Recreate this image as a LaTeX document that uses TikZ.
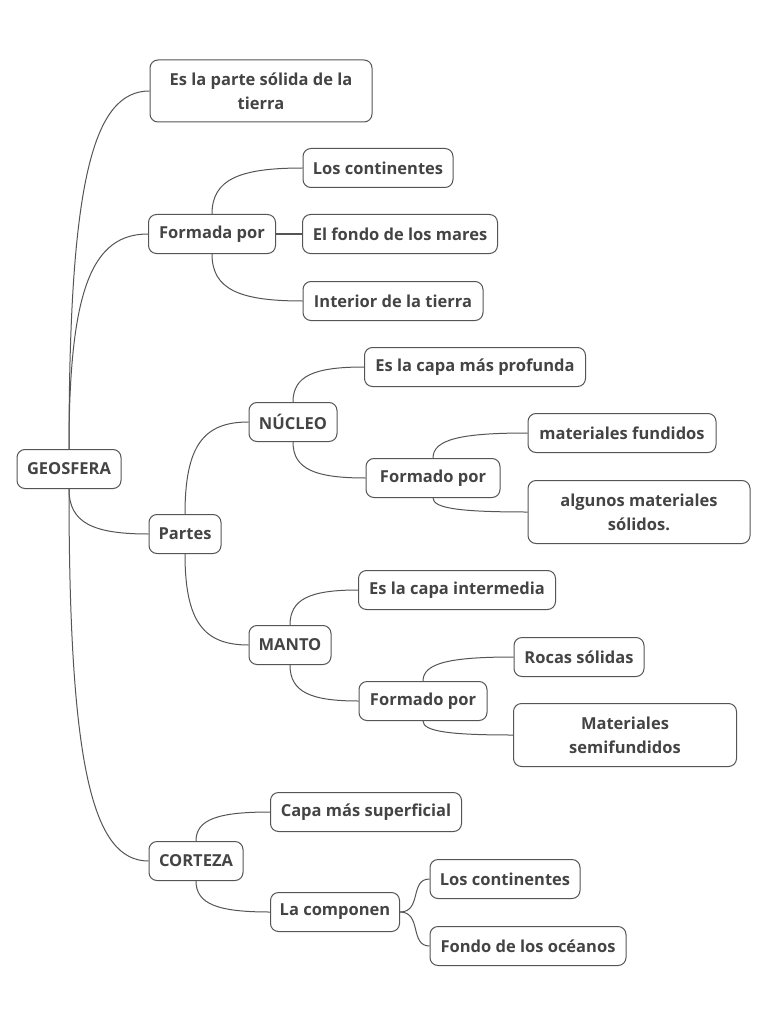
\documentclass[tikz,border=0pt]{standalone}
\usepackage{fontspec}
\setmainfont{Open Sans}
\usetikzlibrary{calc}
\definecolor{txt}{HTML}{444444}
\definecolor{ln}{HTML}{555555}
\begin{document}
\begin{tikzpicture}[x=1pt,y=-1pt,
  box/.style={draw=ln,line width=1pt,rounded corners=8pt,fill=white,text=txt,
    font=\bfseries\fontsize{16.5}{24}\selectfont,minimum height=39pt,align=center,inner sep=3pt},
  con/.style={draw=ln,line width=1pt}]
\useasboundingbox[fill=white] (0,0) rectangle (768,1024);
\node[box,minimum width=104pt] (geo) at (69,469) {GEOSFERA};
\node[box,minimum width=222pt,minimum height=62pt] (sol) at (261,91) {Es la parte sólida de la\\tierra};
\node[box,minimum width=127pt] (form) at (212,234) {Formada por};
\node[box,minimum width=150pt] (cont) at (378,168) {Los continentes};
\node[box,minimum width=195pt] (fondo) at (400,234) {El fondo de los mares};
\node[box,minimum width=180pt] (inter) at (393,301) {Interior de la tierra};
\node[box,minimum width=72pt] (partes) at (185,534) {Partes};
\node[box,minimum width=88pt] (nuc) at (293,422) {NÚCLEO};
\node[box,minimum width=221pt] (prof) at (475,367) {Es la capa más profunda};
\node[box,minimum width=134pt] (fp1) at (433,478) {Formado por};
\node[box,minimum width=188pt] (fund) at (622,433) {materiales fundidos};
\node[box,minimum width=222pt,minimum height=63pt] (solidos) at (639,512) {algunos materiales\\sólidos.};
\node[box,minimum width=82pt] (manto) at (290,645) {MANTO};
\node[box,minimum width=197pt] (intm) at (457,590) {Es la capa intermedia};
\node[box,minimum width=128pt] (fp2) at (423,701) {Formado por};
\node[box,minimum width=130pt] (rocas) at (579,657) {Rocas sólidas};
\node[box,minimum width=223pt,minimum height=63pt] (semi) at (625,735) {Materiales\\semifundidos};
\node[box,minimum width=94pt] (cort) at (196,861) {CORTEZA};
\node[box,minimum width=191pt] (sup) at (366,812) {Capa más superficial};
\node[box,minimum width=129pt] (comp) at (335,912) {La componen};
\node[box,minimum width=150pt] (cont2) at (505,879) {Los continentes};
\node[box,minimum width=196pt] (oce) at (528,946) {Fondo de los océanos};
\foreach \p/\c/\a in {geo/sol/north,geo/form/north,geo/partes/south,geo/cort/south,
  form/cont/north,form/inter/south,partes/nuc/north,partes/manto/south,
  nuc/prof/north,nuc/fp1/south,fp1/fund/north,fp1/solidos/south,
  manto/intm/north,manto/fp2/south,fp2/rocas/north,fp2/semi/south,
  cort/sup/north,cort/comp/south}
  \draw[con] (\p.\a) .. controls ($(\p.\a)!0.75!(\p.\a |- \c.west)$) and ($(\p.\a |- \c.west)!0.3!(\c.west)$) .. (\c.west);
\draw[con] (form) -- (fondo);
\draw[con] (comp.east) .. controls ([xshift=22pt]comp.east) and ([xshift=-20pt]cont2.west) .. (cont2.west);
\draw[con] (comp.east) .. controls ([xshift=22pt]comp.east) and ([xshift=-20pt]oce.west) .. (oce.west);
\end{tikzpicture}
\end{document}
